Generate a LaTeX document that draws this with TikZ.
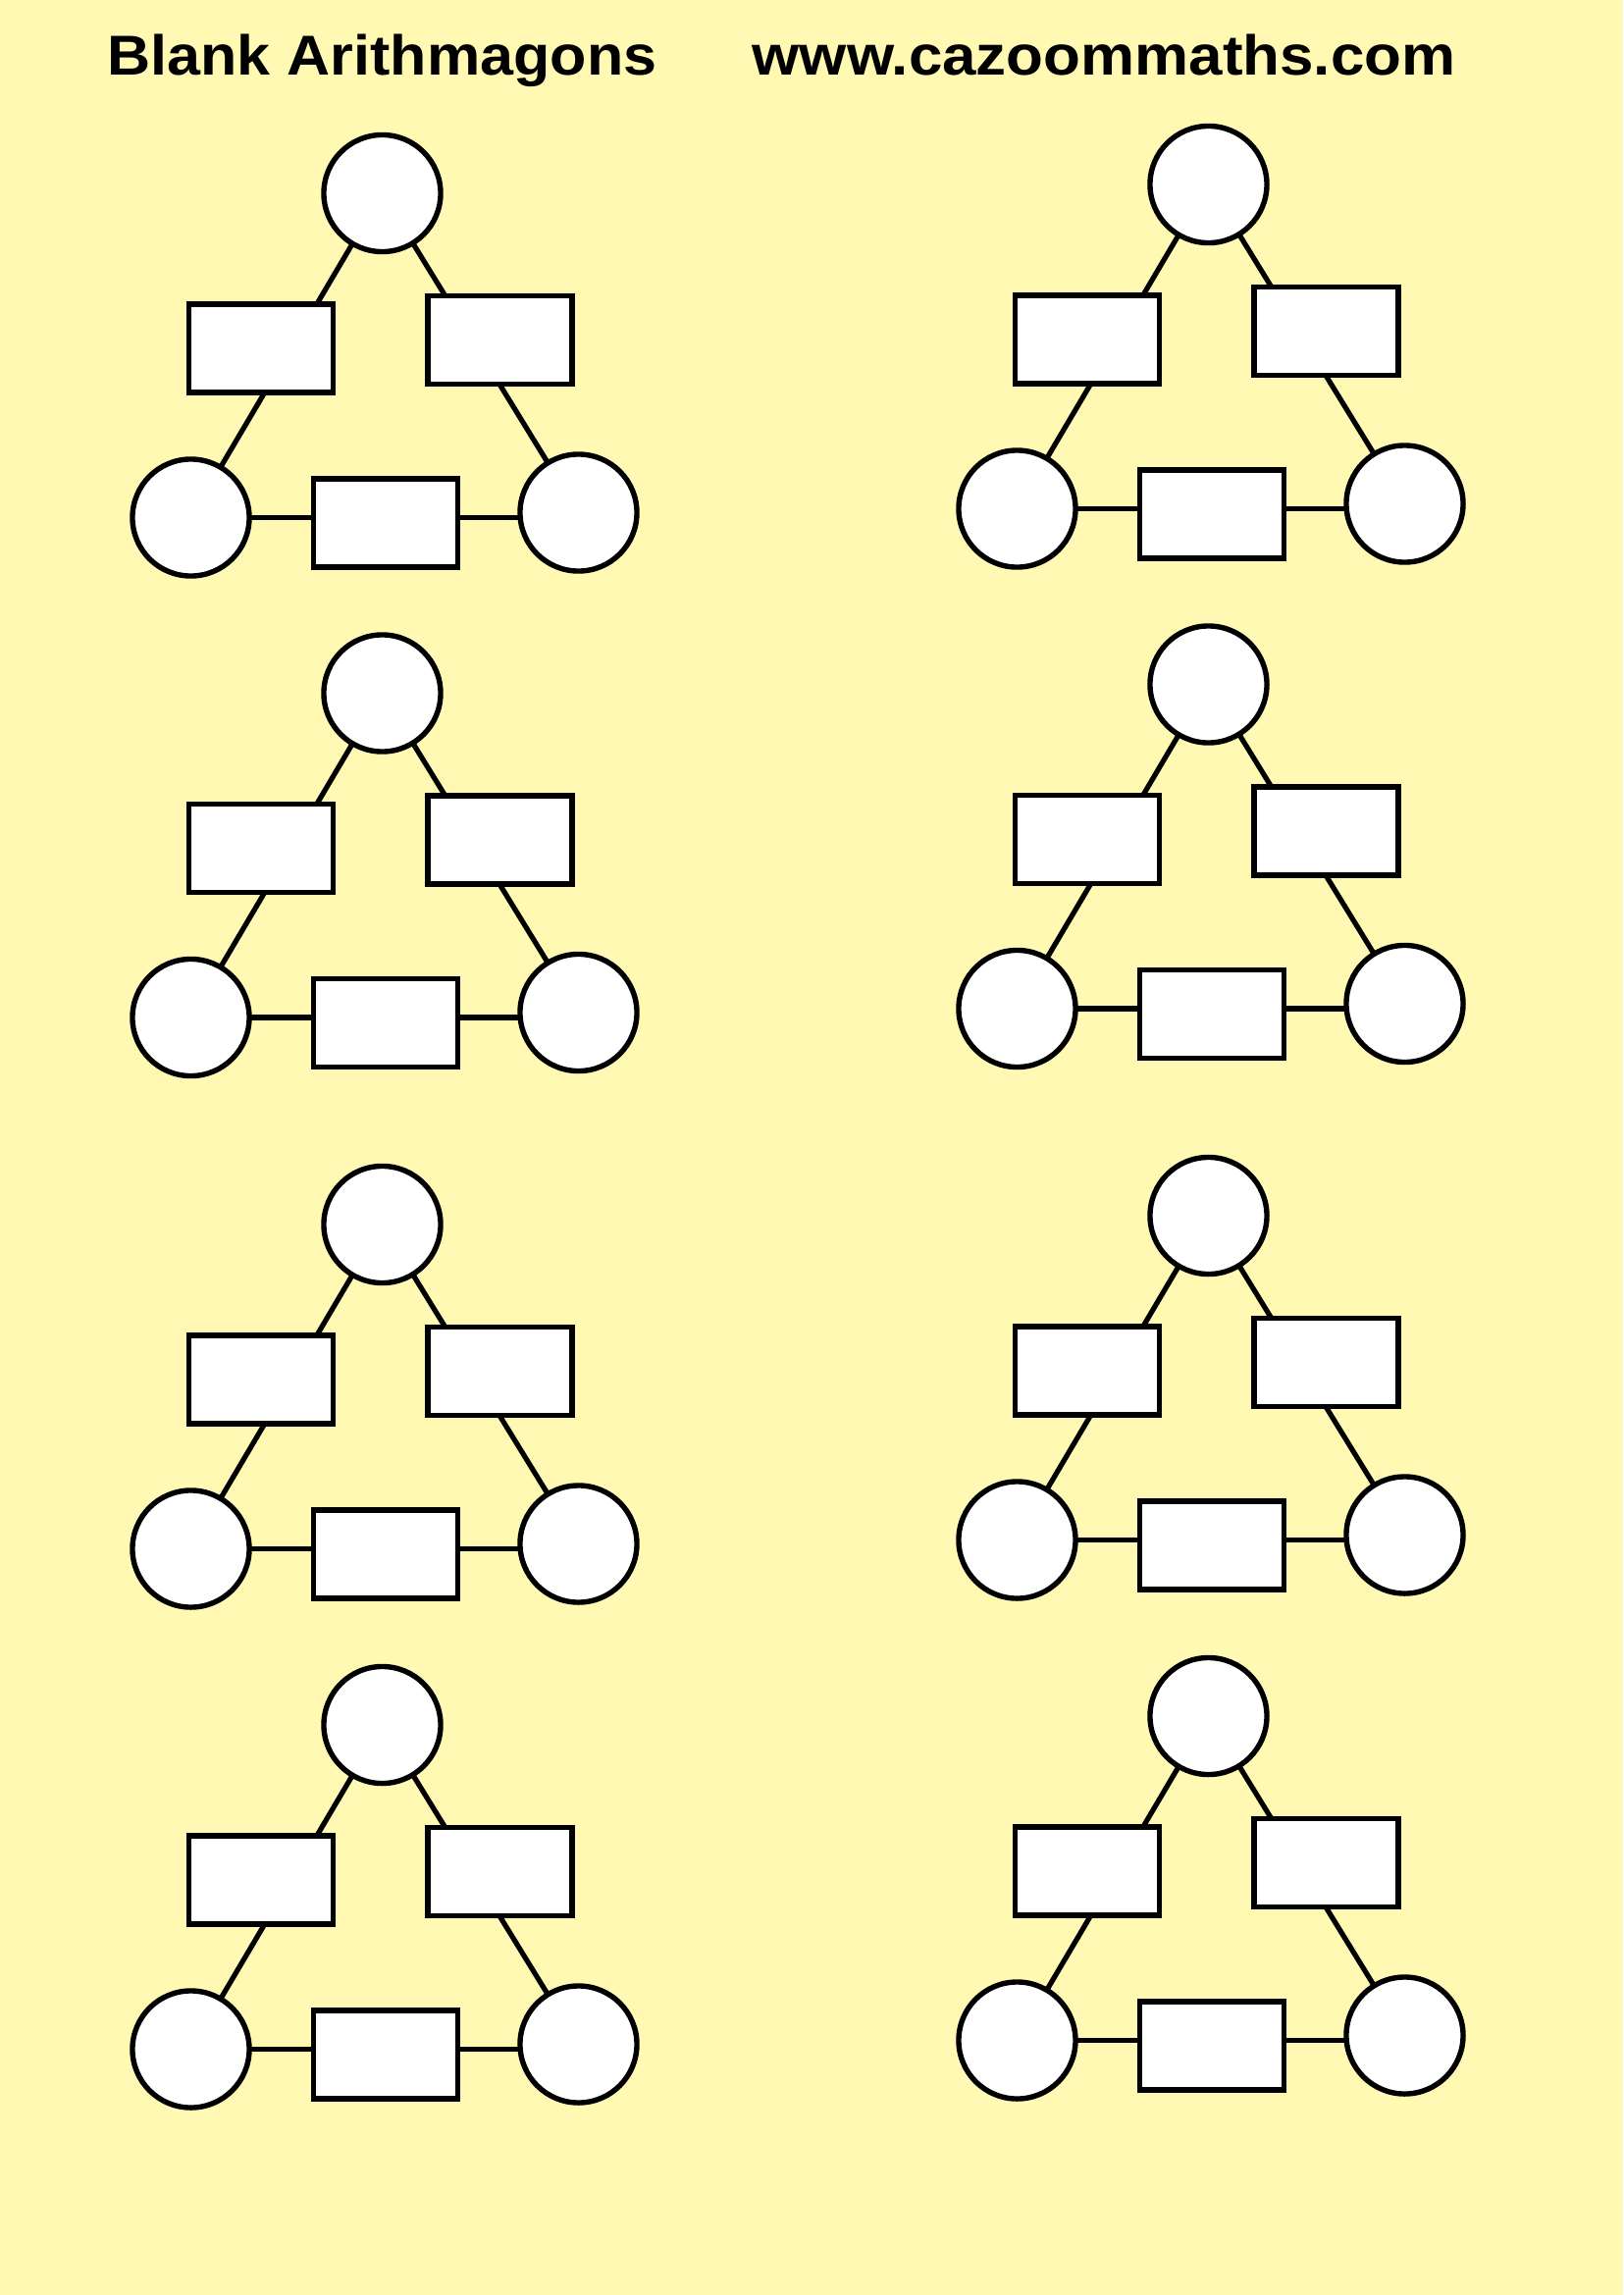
\documentclass[tikz,border=0pt]{standalone}
\usepackage{fontspec}
\setmainfont{Liberation Sans}
\usepackage{graphicx}
\pgfdeclarelayer{paper}
\pgfdeclarelayer{links}
\pgfsetlayers{paper,links,main}
\definecolor{paperyellow}{RGB}{255,249,179}
\tikzset{
  ring/.style={circle, draw=black, fill=white, line width=0.54mm,
    minimum size=1.19cm, inner sep=0pt, outer sep=0pt},
  cell/.style={rectangle, draw=black, fill=white, line width=0.54mm,
    minimum width=1.47cm, minimum height=0.90cm, inner sep=0pt, outer sep=0pt},
  link/.style={draw=black, line width=0.52mm},
  heading/.style={anchor=base west, inner sep=0pt,
    font=\fontsize{16.3pt}{19pt}\selectfont\bfseries},
}
\newcommand\arithmagon[3]{%
  \begin{scope}[shift={(#2,#3)}]
    \node[ring] (#1t) at (0,0) {};
    \node[ring] (#1l) at (-195,330.5) {};
    \node[ring] (#1r) at (200,325.5) {};
    \node[cell] (#1a) at (-123.5,158) {};
    \node[cell] (#1b) at (120,149.5) {};
    \node[cell] (#1c) at (3.5,336) {};
    \begin{pgfonlayer}{links}
      \draw[link] (#1t.center) -- (#1l.center);
      \draw[link] (#1t.center) -- (#1r.center);
      \draw[link] (#1l.center) -- (#1l.center -| #1r.center);
    \end{pgfonlayer}
  \end{scope}}
\begin{document}
\begin{tikzpicture}[x=0.01cm,y=-0.01cm]
  \begin{pgfonlayer}{paper}
    \fill[paperyellow] (0,0) rectangle (1654,2339);
  \end{pgfonlayer}
  \useasboundingbox (0,0) rectangle (1654,2339);
  \node[heading] (title) at (109,76.5) {\scalebox{1.065}[1]{Blank Arithmagons}};
  \node[heading] (site) at (766,76.5) {\scalebox{1.08}[1]{www.cazoommaths.com}};
  \arithmagon{a}{389.5}{197}
  \arithmagon{b}{389.5}{706.5}
  \arithmagon{c}{389.5}{1248}
  \arithmagon{d}{389.5}{1758}
  \arithmagon{e}{1231.5}{188}
  \arithmagon{f}{1231.5}{697.5}
  \arithmagon{g}{1231.5}{1239}
  \arithmagon{h}{1231.5}{1749}
\end{tikzpicture}
\end{document}
